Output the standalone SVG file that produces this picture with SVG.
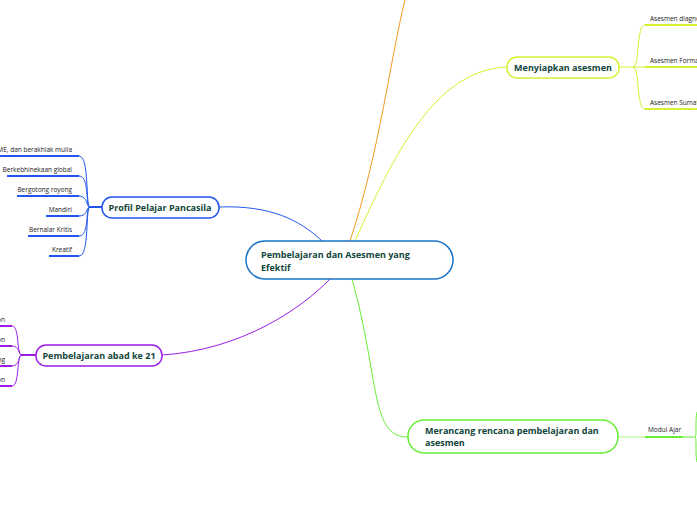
<svg xmlns="http://www.w3.org/2000/svg" width="697" height="520" viewBox="0 0 697 520">
<style>
.n{fill:#fff;stroke-width:1.5}
.t{font-family:"Open Sans","Noto Sans",sans-serif;font-weight:bold;font-size:9px;fill:#12453a}
.l{font-family:"Open Sans","Noto Sans",sans-serif;font-size:6.5px;fill:#222}
.c{fill:none;stroke-width:1}
.u{fill:none;stroke-width:2}
</style>
<rect width="697" height="520" fill="#fff"/>
<g id="connectors">
<path class="c" stroke="#f39a1e" d="M350,241 C380,150 390,60 405,0" stroke-width="1.5"/>
<path class="c" stroke="#d8f030" d="M355,241 C400,140 440,70 507,67" stroke-width="1.2"/>
<path class="c" stroke="#66ee33" d="M352,279 C380,380 370,437 408,437" stroke-width="1.5"/>
<path class="c" stroke="#2255ee" d="M219,207 C270,205 300,220 322,241" stroke-width="1.2"/>
<path class="c" stroke="#9a1ee6" d="M162,355 C240,350 300,310 330,279" stroke-width="1.2"/>
<g stroke="#2255ee">
<path class="u" d="M0,156H79M7,176H79M17,196H79M46,216H79M28,236H79M49,256H79M90,207H102" stroke-width="1.5"/>
<path class="c" d="M79,156C90,156 85,207 90,207M79,176C90,176 85,207 90,207M79,196C88,196 86,207 90,207M79,216C88,216 86,207 90,207M79,236C90,236 85,207 90,207M79,256C90,256 85,207 90,207"/>
</g>
<g stroke="#9a1ee6">
<path class="u" d="M0,326H12M0,346H12M0,366H12M0,386H12M22,355H36" stroke-width="1.5"/>
<path class="c" d="M12,326C20,326 16,355 22,355M12,346C20,346 18,355 22,355M12,366C20,366 18,355 22,355M12,386C20,386 16,355 22,355"/>
</g>
<g stroke="#d8f030">
<path class="u" d="M645,25H697M645,67H697M645,109H697" stroke-width="1.5"/>
<path class="c" d="M619,67H633C640,67 636,25 645,25M633,67H645M633,67C640,67 636,109 645,109"/>
</g>
<g stroke="#66ee33">
<path class="c" stroke="#aaf088" d="M618,437H645"/>
<path class="u" d="M645,437H683" stroke-width="1.5"/>
<path class="c" d="M683,437H695M695,437C697,437 695,420 697,412M695,437C697,437 695,455 697,462"/>
</g>
</g>
<g id="center">
<rect class="n" x="246" y="241" width="207" height="38" rx="19" stroke="#1a73c9"/>
<text class="t" x="261" y="258" font-size="10">Pembelajaran dan Asesmen yang</text>
<text class="t" x="261" y="271" font-size="10">Efektif</text>
</g>
<g id="profil">
<rect class="n" x="102" y="197" width="117" height="21" rx="10" stroke="#2255ee"/>
<text class="t" x="160" y="210.5" text-anchor="middle" font-size="8.5">Profil Pelajar Pancasila</text>
<g class="l" text-anchor="end">
<text x="72" y="152">YME, dan berakhlak mulia</text>
<text x="72" y="172">Berkebhinekaan global</text>
<text x="72" y="192">Bergotong royong</text>
<text x="72" y="212">Mandiri</text>
<text x="72" y="232">Bernalar Kritis</text>
<text x="72" y="252">Kreatif</text>
</g>
</g>
<g id="abad21">
<rect class="n" x="36" y="345" width="126" height="21" rx="10" stroke="#9a1ee6"/>
<text class="t" x="99" y="358.5" text-anchor="middle" font-size="8.5">Pembelajaran abad ke 21</text>
<g class="l" text-anchor="end">
<text x="5" y="322">on</text>
<text x="5" y="342">on</text>
<text x="5" y="362">ng</text>
<text x="5" y="382">on</text>
</g>
</g>
<g id="asesmen">
<rect class="n" x="507" y="57" width="112" height="21" rx="10" stroke="#d8f030"/>
<text class="t" x="563" y="70.5" text-anchor="middle" font-size="8.5">Menyiapkan asesmen</text>
<text class="l" x="650" y="21">Asesmen diagnostik</text>
<text class="l" x="650" y="63">Asesmen Formatif</text>
<text class="l" x="650" y="105">Asesmen Sumatif</text>
</g>
<g id="merancang">
<rect class="n" x="408" y="420" width="210" height="33" rx="16" stroke="#66ee33"/>
<text class="t" x="425" y="434" font-size="8.5">Merancang rencana pembelajaran dan</text>
<text class="t" x="425" y="446" font-size="8.5">asesmen</text>
<text class="l" x="648" y="432">Modul Ajar</text>
</g>
</svg>
